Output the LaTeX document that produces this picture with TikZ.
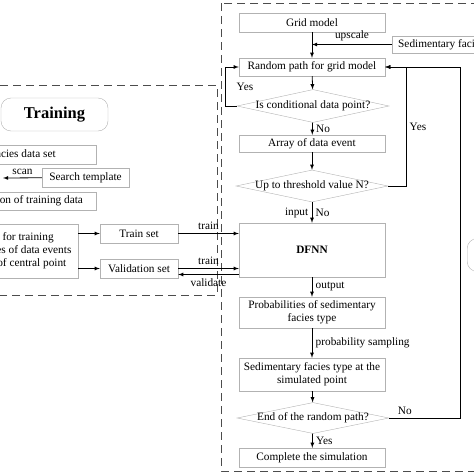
\documentclass[tikz,border=0pt]{standalone}
\usepackage{fontspec}
\setmainfont{Liberation Serif}
\usetikzlibrary{shapes.geometric}
\begin{document}
\begin{tikzpicture}[x=1pt,y=-1pt,
  every node/.style={font=\fontsize{11.3}{13}\selectfont},
  box/.style={draw=gray!60, minimum width=146pt, inner sep=1pt, align=center},
  decision/.style={draw=gray!60, diamond, inner sep=0pt, minimum width=152pt},
  stage/.style={draw=gray!60, rounded corners=10pt, minimum height=33pt, inner xsep=22pt, font=\fontsize{16.5}{18}\selectfont\bfseries},
  region/.style={draw=black!70, line width=0.9pt, dash pattern=on 8pt off 5pt}]
\useasboundingbox (0,0) rectangle (474,474);
\clip (0,0) rectangle (474,474);
% simulation column
\node[box, minimum height=19pt] (grid) at (312,22.5) {Grid model};
\node[box, minimum height=18pt] (rpath) at (312,67) {Random path for grid model};
\node[decision, minimum height=33pt, label=center:{Is conditional data point?}] (cond) at (313,106) {};
\node[box, minimum height=17pt] (array) at (312,143.5) {Array of data event};
\node[decision, minimum height=32pt, label=center:{Up to threshold value N?}] (thresh) at (312,186) {};
\node[box, minimum height=54pt, font=\fontsize{11.3}{13}\selectfont\bfseries] (dfnn) at (312,250) {DFNN};
\node[box, minimum height=31pt] (prob) at (312,312.5) {Probabilities of sedimentary\\facies type};
\node[box, minimum height=33pt] (stype) at (312,374.5) {Sedimentary facies type at the\\simulated point};
\node[decision, minimum height=31pt, label=center:{End of the random path?}] (endp) at (313,418) {};
\node[box, minimum height=19pt] (done) at (312,457.5) {Complete the simulation};
\node[box, minimum width=0pt, minimum height=17pt, inner xsep=6pt, anchor=west] (facmod) at (392,44.5) {Sedimentary facies data set};
\node[stage, anchor=west] (simul) at (467,255) {Simulation};
% training column
\node[stage, minimum width=107pt] (training) at (54.5,114.5) {Training};
\node[box, minimum width=204pt, minimum height=19pt] (facset) at (-6,154.5) {Sedimentary facies data set};
\node[box, minimum width=87pt, minimum height=19pt] (search) at (85.5,177.5) {Search template};
\node[box, minimum width=145pt, minimum height=18pt] (extract) at (23.5,201) {Extraction of training data};
\node[box, minimum width=124pt, minimum height=54pt] (dataset) at (16,251) {Data for training\\Attributes of data events\\Facies of central point};
\node[box, minimum width=78pt, minimum height=19pt] (trainset) at (139,233.5) {Train set};
\node[box, minimum width=78pt, minimum height=19pt] (validset) at (139,268.5) {Validation set};
\coordinate (scanend) at (3,178);
\coordinate (yesl) at (225,67);
\coordinate (loopa) at (406,67);
\coordinate (loopb) at (460,67);
% dashed regions
\draw[region] (0,85) -- (217,85) -- (217,295) -- (0,295);
\draw[region] (221,3) rectangle (480,471);
% flow
\draw[->,>=latex,thick] (grid) -- (rpath);
\draw[->,>=latex,thick] (facmod) -- (facmod -| grid) node[midway,above]{upscale};
\draw[->,>=latex,thick] (rpath) -- (cond);
\draw[->,>=latex,thick] (cond) -- (array) node[midway,right]{No};
\draw[->,>=latex,thick] (array) -- (thresh);
\draw[->,>=latex,thick] (thresh) -- (dfnn) node[midway,right]{No} node[midway,left]{input};
\draw[->,>=latex,thick] (dfnn) -- (prob) node[midway,right]{output};
\draw[->,>=latex,thick] (prob) -- (stype) node[midway,right]{probability sampling};
\draw[->,>=latex,thick] (stype) -- (endp);
\draw[->,>=latex,thick] (endp) -- (done) node[midway,right]{Yes};
\draw[->,>=latex,thick] (cond.west) -| (yesl) node[pos=0.75,right=8pt]{Yes} -- (rpath.west);
\draw[->,>=latex,thick] (thresh.east) -| (loopa) node[pos=0.75,right]{Yes} -- (rpath.east);
\draw[->,>=latex,thick] (endp.east) -| (loopb) node[pos=0.11,above]{No} -- (rpath.east);
% training flow
\draw[->,>=latex,thick] (search) -- (scanend) node[midway,above]{scan};
\draw[->,>=latex,thick] (dataset.east |- trainset.west) -- (trainset.west);
\draw[->,>=latex,thick] (dataset.east |- validset.west) -- (validset.west);
\draw[->,>=latex,thick] (trainset.east) -- (trainset.east -| dfnn.west) node[midway,above]{train};
\draw[->,>=latex,thick] (validset.east) -- (validset.east -| dfnn.west) node[midway,above]{train};
\draw[->,>=latex,thick] ([yshift=-6pt]validset.east -| dfnn.west) -- ([yshift=-6pt]validset.east) node[midway,below]{validate};
\end{tikzpicture}
\end{document}
